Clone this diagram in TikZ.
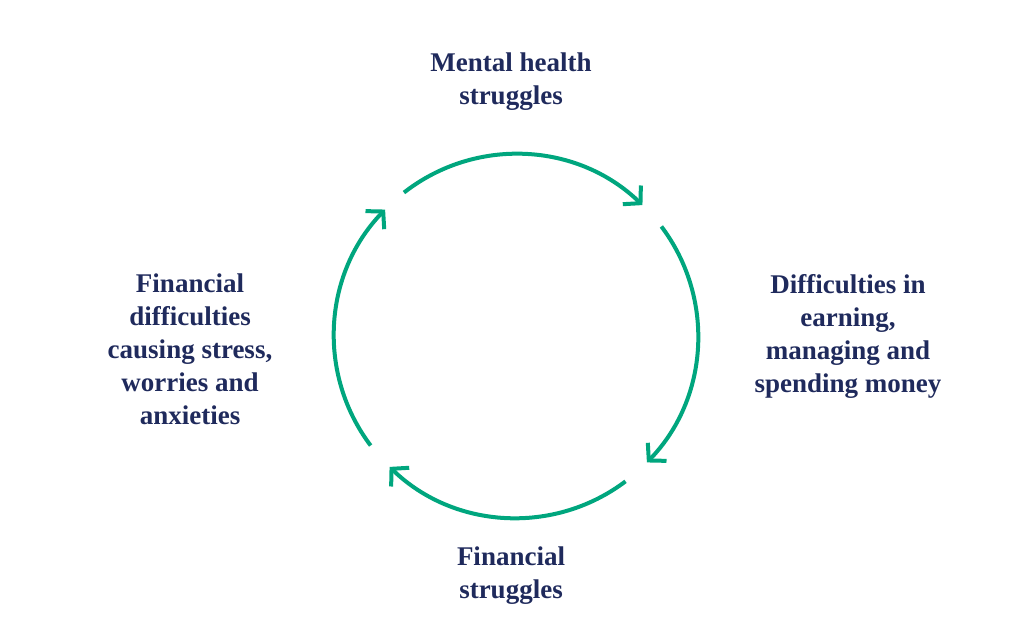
\documentclass[tikz,border=0pt]{standalone}
\usepackage{fontspec}
\setmainfont{Liberation Serif}
\usetikzlibrary{arrows.meta}
\definecolor{gr}{HTML}{00A67E}
\definecolor{nv}{HTML}{1F2A5C}
\begin{document}
\begin{tikzpicture}[x=1pt,y=1pt,
  lab/.style={text=nv,font=\fontsize{27}{33}\selectfont\bfseries,align=center},
  arc/.style={draw=gr,line width=4pt,-{Straight Barb[length=12pt,width=26pt,line width=4pt]}}]
\useasboundingbox (0,0) rectangle (1024,637);
\coordinate (c) at (516,301);
\node[lab] (t) at (511,555) {Mental health\\struggles};
\node[lab] (r) at (848,301) {Difficulties in\\earning,\\managing and\\spending money};
\node[lab] (b) at (511,61) {Financial\\struggles};
\node[lab] (l) at (190,288) {Financial\\difficulties\\causing stress,\\worries and\\anxieties};
\draw[arc] ([shift={(128:182)}]c) arc[start angle=128,end angle=46,radius=182];
\draw[arc] ([shift={(37:182)}]c) arc[start angle=37,end angle=-44,radius=182];
\draw[arc] ([shift={(-53:182)}]c) arc[start angle=-53,end angle=-134,radius=182];
\draw[arc] ([shift={(-143:182)}]c) arc[start angle=-143,end angle=-224,radius=182];
\end{tikzpicture}
\end{document}
